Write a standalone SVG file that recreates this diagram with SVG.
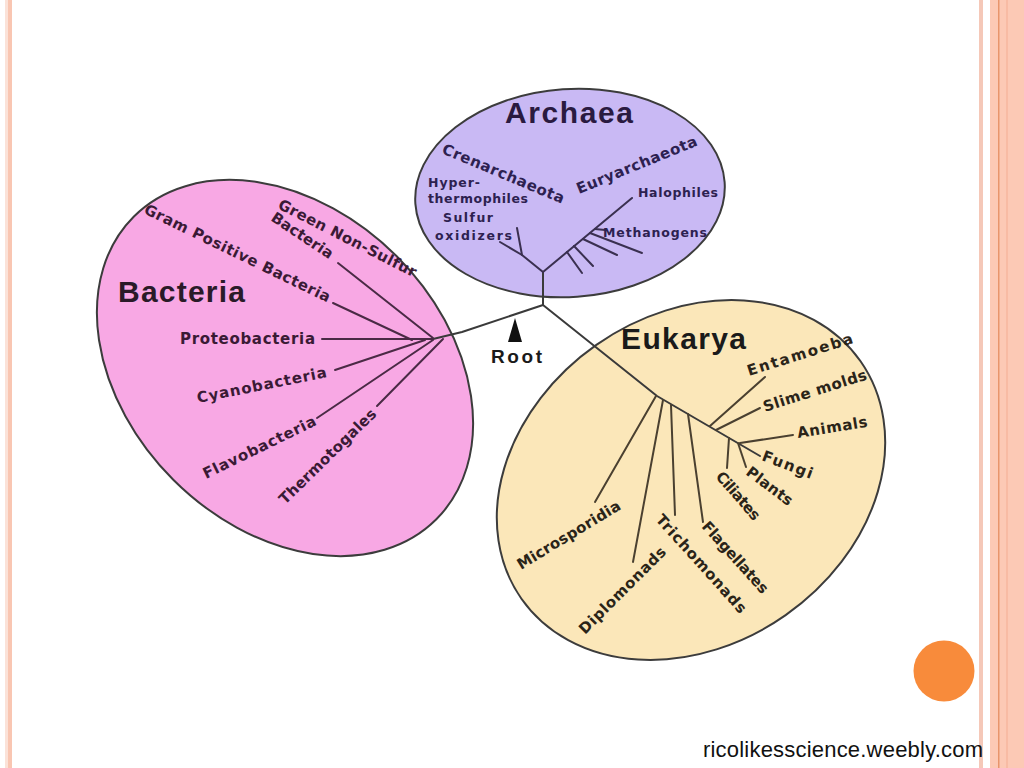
<svg xmlns="http://www.w3.org/2000/svg" width="1024" height="768" viewBox="0 0 1024 768">
<style>
text{font-family:"Liberation Sans",Arial,sans-serif;font-weight:bold}
.title{font-size:30px}
.lb{font-family:"DejaVu Sans","Liberation Sans",sans-serif;font-size:15px}
.la{font-family:"DejaVu Sans","Liberation Sans",sans-serif;font-size:12.5px}
.bac{fill:#3a1a35}
.arc{fill:#2d2150}
.euk{fill:#2a2418}
.ell{stroke:#3c3c3c;stroke-width:2}
.tr{fill:none;stroke-width:2;stroke-linecap:round;stroke-linejoin:round}
.tb{stroke:#4a2a45}
.ta{stroke:#3a3050}
.te{stroke:#4a4030}
.tm{stroke:#3a3a3a}
</style>
<rect width="1024" height="768" fill="#ffffff"/>
<g id="border">
<rect x="5" y="0" width="3" height="768" fill="#fbe2d8"/>
<rect x="8" y="0" width="4" height="768" fill="#f9c6b2"/>
<rect x="979" y="0" width="4" height="768" fill="#f5c8b8"/>
<rect x="990" y="0" width="34" height="768" fill="#fcc9b5"/>
<rect x="998" y="0" width="1.5" height="768" fill="#e8956c"/>
<rect x="1006" y="0" width="2" height="768" fill="#f8bba4"/>
</g>
<g id="bacteria">
<ellipse class="ell" cx="285" cy="368" rx="214" ry="158" transform="rotate(45 285 368)" fill="#f8a8e4"/>
<text class="title" x="118" y="302" fill="#2a1a28" textLength="127">Bacteria</text>
</g>
<g id="archaea">
<ellipse class="ell" cx="570" cy="193" rx="155" ry="104" transform="rotate(-4 570 193)" fill="#c9b9f4"/>
<text class="title" x="505" y="123" fill="#2a1a40" textLength="128">Archaea</text>
</g>
<g id="eukarya">
<ellipse class="ell" cx="691" cy="480" rx="207" ry="165" transform="rotate(-35 691 480)" fill="#fbe7b9"/>
<text class="title" x="621" y="349" fill="#1a1a1a" textLength="125">Eukarya</text>
</g>
<g id="connectors">
<polyline class="tr tm" points="433,339 462,332 543,305 543,272"/>
<polyline class="tr tm" points="543,305 657,396 760,456"/>
<line class="tr tb" x1="338" y1="263" x2="433" y2="338"/>
<line class="tr tb" x1="333" y1="303" x2="412" y2="340"/>
<line class="tr tb" x1="322" y1="339" x2="433" y2="339"/>
<line class="tr tb" x1="335" y1="370" x2="425" y2="340"/>
<line class="tr tb" x1="317" y1="418" x2="433" y2="340"/>
<line class="tr tb" x1="377" y1="406" x2="443" y2="339"/>
<polyline class="tr ta" points="543,272 522,255 500,242"/>
<line class="tr ta" x1="522" y1="255" x2="517" y2="228"/>
<line class="tr ta" x1="543" y1="272" x2="632" y2="198"/>
<line class="tr ta" x1="567" y1="252" x2="582" y2="273"/>
<line class="tr ta" x1="574" y1="246" x2="593" y2="266"/>
<line class="tr ta" x1="583" y1="239" x2="617" y2="255"/>
<line class="tr ta" x1="590" y1="233" x2="642" y2="253"/>
<line class="tr ta" x1="595" y1="229" x2="605" y2="230"/>
<line class="tr te" x1="656" y1="396" x2="595" y2="502"/>
<line class="tr te" x1="663" y1="400" x2="633" y2="562"/>
<line class="tr te" x1="671" y1="405" x2="675" y2="515"/>
<line class="tr te" x1="688" y1="414" x2="703" y2="522"/>
<line class="tr te" x1="710" y1="426" x2="765" y2="377"/>
<line class="tr te" x1="716" y1="430" x2="760" y2="408"/>
<line class="tr te" x1="740" y1="443" x2="793" y2="435"/>
<line class="tr te" x1="729" y1="438" x2="727" y2="468"/>
<line class="tr te" x1="738" y1="443" x2="746" y2="467"/>
</g>
<g id="root">
<polygon points="515,318 508,342 522,342" fill="#111"/>
<text x="491" y="363" font-size="19" fill="#1a1a1a" textLength="51">Root</text>
</g>
<g id="bacteria-labels">
<text class="lb bac" transform="translate(277,208) rotate(27)" textLength="153">Green Non-Sulfur</text>
<text class="lb bac" transform="translate(270,220) rotate(33.7)" textLength="71">Bacteria</text>
<text class="lb bac" transform="translate(143,213) rotate(25.9)" textLength="205">Gram Positive Bacteria</text>
<text class="lb bac" x="180" y="344" textLength="135">Proteobacteria</text>
<text class="lb bac" transform="translate(198,403) rotate(-11.3)" textLength="132">Cyanobacteria</text>
<text class="lb bac" transform="translate(206,479) rotate(-26)" textLength="124">Flavobacteria</text>
<text class="lb bac" transform="translate(285,505) rotate(-44.3)" textLength="129">Thermotogales</text>
</g>
<g id="archaea-labels">
<text class="lb arc" transform="translate(441,153) rotate(22.8)" textLength="131">Crenarchaeota</text>
<text class="lb arc" transform="translate(579,194) rotate(-22.2)" textLength="129">Euryarchaeota</text>
<text class="la arc" x="428" y="187" textLength="52">Hyper-</text>
<text class="la arc" x="428" y="203" textLength="100">thermophiles</text>
<text class="la arc" x="443" y="222" textLength="50">Sulfur</text>
<text class="la arc" x="435" y="240" textLength="77">oxidizers</text>
<text class="la arc" x="638" y="197" textLength="80">Halophiles</text>
<text class="la arc" x="603" y="237" textLength="104">Methanogens</text>
</g>
<g id="eukarya-labels">
<text class="lb euk" transform="translate(749,376) rotate(-17.5)" textLength="110">Entamoeba</text>
<text class="lb euk" transform="translate(765,412) rotate(-17.7)" textLength="108">Slime molds</text>
<text class="lb euk" transform="translate(798,438) rotate(-9.3)" textLength="71">Animals</text>
<text class="lb euk" transform="translate(761,460) rotate(20.9)" textLength="53">Fungi</text>
<text class="lb euk" transform="translate(745,474) rotate(36.9)" textLength="54">Plants</text>
<text class="lb euk" transform="translate(715,477) rotate(49)" textLength="59">Ciliates</text>
<text class="lb euk" transform="translate(521,570) rotate(-31.3)" textLength="118">Microsporidia</text>
<text class="lb euk" transform="translate(585,635) rotate(-45)" textLength="116">Diplomonads</text>
<text class="lb euk" transform="translate(655,520) rotate(48)" textLength="127">Trichomonads</text>
<text class="lb euk" transform="translate(701,527) rotate(48)" textLength="91">Flagellates</text>
</g>
<g id="footer">
<circle cx="944" cy="671" r="30.5" fill="#f88b3b"/>
<text x="703" y="757" font-size="22" style="font-weight:normal" fill="#111" textLength="280">ricolikesscience.weebly.com</text>
</g>
</svg>
